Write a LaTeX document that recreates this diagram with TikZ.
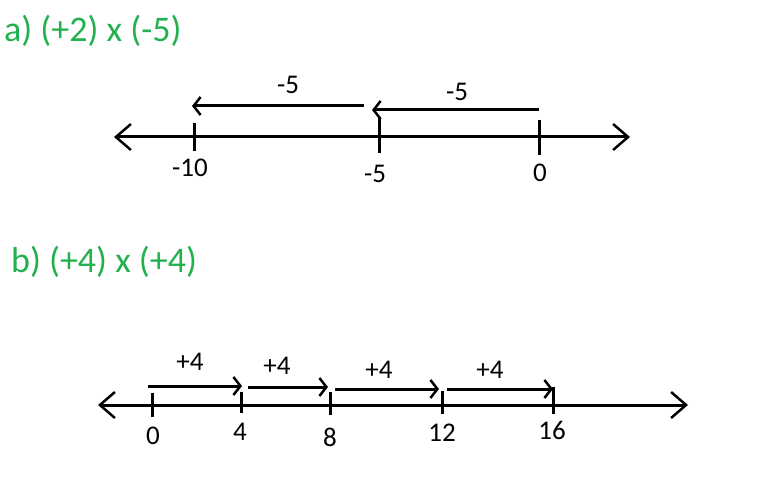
\documentclass[tikz,border=0pt]{standalone}
\usepackage{fontspec}
\setmainfont{Carlito}
\usetikzlibrary{arrows.meta}
\definecolor{pgreen}{RGB}{34,177,76}
\tikzset{
  axis/.style={line width=3pt,{Straight Barb[length=15pt,width=26pt,line width=2.5pt]}-{Straight Barb[length=15pt,width=26pt,line width=2.5pt]}},
  jumpl/.style={line width=3pt,-{Straight Barb[length=7pt,width=18pt,line width=2.5pt]}},
  tick/.style={line width=3pt},
  title/.style={text=pgreen,font=\fontsize{36}{42}\selectfont,anchor=west,inner sep=0pt},
  lbl/.style={font=\fontsize{27}{31}\selectfont,inner sep=0pt}
}
\begin{document}
\begin{tikzpicture}[x=1pt,y=-1pt]
\useasboundingbox (0,0) rectangle (771,500);
% ---- part a
\node[title] (ta) at (4,31) {a) (+2) x (-5)};
\coordinate (aL) at (114,137);
\coordinate (aR) at (630,137);
\draw[axis] (aL) -- (aR);
\coordinate (m10t) at (194,123); \coordinate (m10b) at (194,151);
\coordinate (m5t) at (379,118);  \coordinate (m5b) at (379,153);
\coordinate (z0t) at (539,120);  \coordinate (z0b) at (539,155);
\draw[tick] (m10t) -- (m10b);
\draw[tick] (m5t) -- (m5b);
\draw[tick] (z0t) -- (z0b);
\coordinate (j2s) at (364,106); \coordinate (j2e) at (192,106);
\coordinate (j1s) at (539,110); \coordinate (j1e) at (372,110);
\draw[jumpl] (j1s) -- (j1e);
\draw[jumpl] (j2s) -- (j2e);
\node[lbl] (la1) at (457,92) {-5};
\node[lbl] (la2) at (288,85) {-5};
\node[lbl] (na10) at (190,168) {-10};
\node[lbl] (na5) at (375,174) {-5};
\node[lbl] (na0) at (540,173) {0};
% ---- part b
\node[title] (tb) at (11,262) {b) (+4) x (+4)};
\coordinate (bL) at (98,405);
\coordinate (bR) at (688,405);
\draw[axis] (bL) -- (bR);
\coordinate (b0t) at (152,393);  \coordinate (b0b) at (152,417);
\coordinate (b4t) at (241,392);  \coordinate (b4b) at (241,413);
\coordinate (b8t) at (330,392);  \coordinate (b8b) at (330,415);
\coordinate (b12t) at (442,391); \coordinate (b12b) at (442,414);
\coordinate (b16t) at (553,387); \coordinate (b16b) at (553,414);
\foreach \t/\b in {b0t/b0b,b4t/b4b,b8t/b8b,b12t/b12b,b16t/b16b}
  \draw[tick] (\t) -- (\b);
\coordinate (s1) at (148,386); \coordinate (e1) at (242,386);
\coordinate (s2) at (248,387); \coordinate (e2) at (328,387);
\coordinate (s3) at (335,389); \coordinate (e3) at (439,389);
\coordinate (s4) at (447,389); \coordinate (e4) at (553,389);
\draw[jumpl] (s1) -- (e1);
\draw[jumpl] (s2) -- (e2);
\draw[jumpl] (s3) -- (e3);
\draw[jumpl] (s4) -- (e4);
\node[lbl] (p1) at (190,362) {+4};
\node[lbl] (p2) at (277,366) {+4};
\node[lbl] (p3) at (379,370) {+4};
\node[lbl] (p4) at (490,370) {+4};
\node[lbl] (n0) at (153,436) {0};
\node[lbl] (n4) at (240,432) {4};
\node[lbl] (n8) at (330,437) {8};
\node[lbl] (n12) at (442,433) {12};
\node[lbl] (n16) at (552,430) {16};
\end{tikzpicture}
\end{document}
